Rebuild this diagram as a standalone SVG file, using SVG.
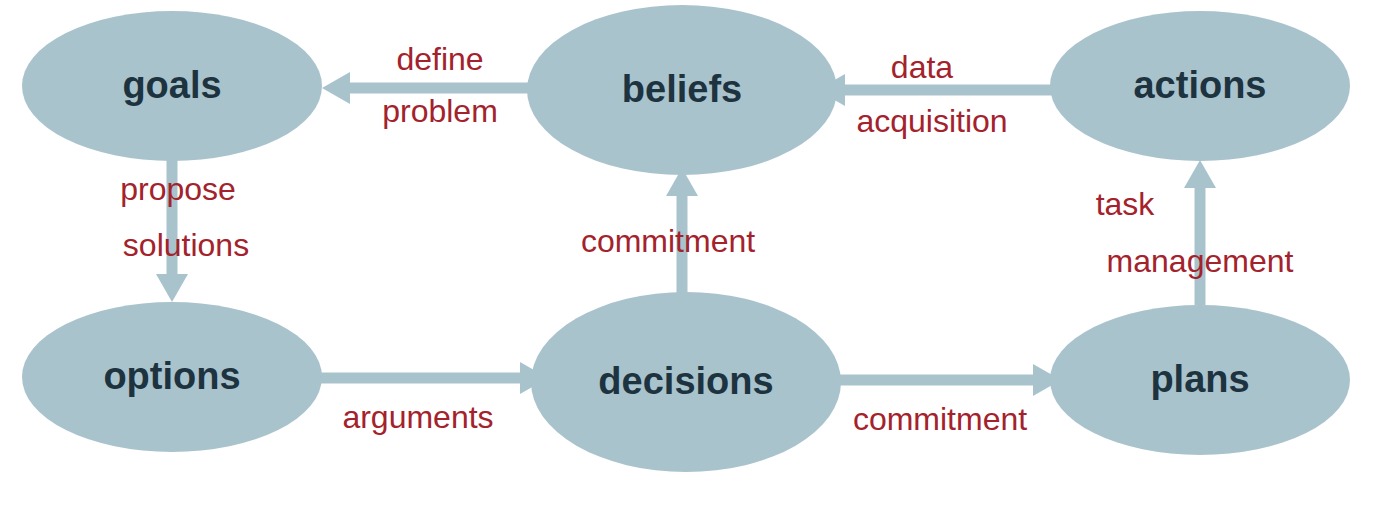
<svg xmlns="http://www.w3.org/2000/svg" width="1381" height="527" viewBox="0 0 1381 527">
<style>
.n{fill:#a9c3cd}
.t{font-family:"Liberation Sans",Arial,sans-serif;font-weight:bold;font-size:38px;fill:#1e3340;text-anchor:middle}
.l{font-family:"Liberation Sans",Arial,sans-serif;font-size:32px;fill:#a3222c;text-anchor:middle}
.c{stroke:#a9c3cd;stroke-width:11;fill:none}
.h{fill:#a9c3cd}
</style>
<rect width="1381" height="527" fill="#fff"/>
<g id="goals"><ellipse class="n" cx="172" cy="86" rx="150" ry="75"/><text class="t" x="172" y="98">goals</text></g>
<g id="beliefs"><ellipse class="n" cx="682" cy="90" rx="155" ry="85"/><text class="t" x="682" y="102">beliefs</text></g>
<g id="actions"><ellipse class="n" cx="1200" cy="86" rx="150" ry="75"/><text class="t" x="1200" y="98">actions</text></g>
<g id="options"><ellipse class="n" cx="172" cy="377" rx="150" ry="75"/><text class="t" x="172" y="389">options</text></g>
<g id="decisions"><ellipse class="n" cx="686" cy="382" rx="155" ry="90"/><text class="t" x="686" y="394">decisions</text></g>
<g id="plans"><ellipse class="n" cx="1200" cy="380" rx="150" ry="75"/><text class="t" x="1200" y="392">plans</text></g>
<g id="connectors">
<line class="c" x1="530" y1="88" x2="345" y2="88"/><polygon class="h" points="322,88 350,72 350,104"/>
<line class="c" x1="1052" y1="90" x2="840" y2="90"/><polygon class="h" points="817,90 845,74 845,106"/>
<line class="c" x1="172" y1="160" x2="172" y2="280"/><polygon class="h" points="172,302 156,274 188,274"/>
<line class="c" x1="682" y1="293" x2="682" y2="190"/><polygon class="h" points="682,168 666,196 698,196"/>
<line class="c" x1="320" y1="378" x2="525" y2="378"/><polygon class="h" points="548,378 520,362 520,394"/>
<line class="c" x1="840" y1="380" x2="1038" y2="380"/><polygon class="h" points="1061,380 1033,364 1033,396"/>
<line class="c" x1="1200" y1="305" x2="1200" y2="182"/><polygon class="h" points="1200,160 1184,188 1216,188"/>
</g>
<g id="labels">
<text class="l" x="440" y="70">define</text><text class="l" x="440" y="122">problem</text>
<text class="l" x="922" y="78">data</text><text class="l" x="932" y="132">acquisition</text>
<text class="l" x="178" y="200">propose</text><text class="l" x="186" y="256">solutions</text>
<text class="l" x="668" y="252">commitment</text>
<text class="l" x="1125" y="215">task</text><text class="l" x="1200" y="272">management</text>
<text class="l" x="418" y="428">arguments</text>
<text class="l" x="940" y="430">commitment</text>
</g>
</svg>
